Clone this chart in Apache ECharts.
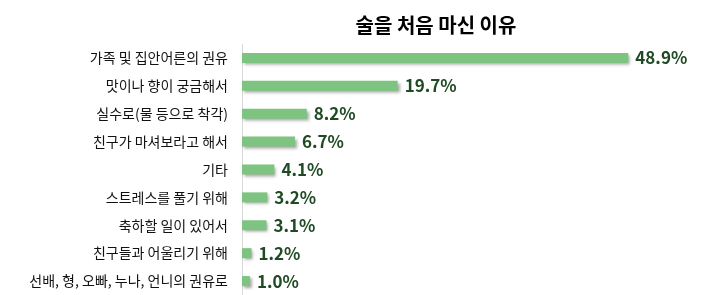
<!DOCTYPE html>
<html>
<head>
<meta charset="utf-8">
<script src="https://cdn.jsdelivr.net/npm/echarts@6/dist/echarts.min.js"></script>
<style>
html,body{margin:0;padding:0;background:#fff;}
#c{width:710px;height:295px;}
</style>
</head>
<body>
<div id="c"></div>
<script>
const titleText = '술을 처음 마신 이유';
const categories = ['가족 및 집안어른의 권유','맛이나 향이 궁금해서','실수로(물 등으로 착각)','친구가 마셔보라고 해서','기타','스트레스를 풀기 위해','축하할 일이 있어서','친구들과 어울리기 위해','선배, 형, 오빠, 누나, 언니의 권유로'];
const values = [48.9, 19.7, 8.2, 6.7, 4.1, 3.2, 3.1, 1.2, 1.0];

const chart = echarts.init(document.getElementById('c'));
chart.setOption({
  animation: false,
  backgroundColor: '#ffffff',
  title: {
    text: titleText,
    left: 431, top: 10, textAlign: 'center',
    textStyle: {fontFamily: 'Noto Sans CJK KR', fontSize: 20, fontWeight: 'bold', color: '#000'}
  },
  grid: {left: 242, top: 44, width: 395, height: 253},
  xAxis: {
    type: 'value', min: 0, max: 50,
    show: false
  },
  yAxis: {
    type: 'category', inverse: true, data: categories,
    axisLine: {show: true, lineStyle: {color: '#d9d9d9', width: 1}},
    axisTick: {show: false},
    axisLabel: {margin: 14, fontFamily: 'Noto Sans CJK KR', fontSize: 14, color: '#111'}
  },
  series: [{
    type: 'bar', data: values, barWidth: 10,
    itemStyle: {color: '#7cc47f', shadowColor: 'rgba(0,0,0,0.35)', shadowBlur: 3, shadowOffsetX: 2, shadowOffsetY: 2},
    label: {
      show: true, position: 'right', distance: 7,
      formatter: p => p.value.toFixed(1) + '%',
      fontFamily: 'Noto Sans CJK KR', fontSize: 17, fontWeight: 'bold', color: '#1f4a24'
    }
  }]
});
</script>
</body>
</html>
